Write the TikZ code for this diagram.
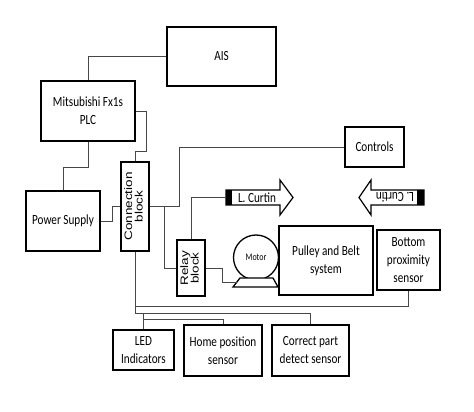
\documentclass[tikz,border=0pt]{standalone}
\usepackage{fontspec}
\setmainfont{Carlito}[FakeStretch=0.8]
\newfontfamily\rotfont{Liberation Sans}
\usetikzlibrary{calc}
\begin{document}
\begin{tikzpicture}[x=1pt,y=-1pt,
  box/.style={draw=black, line width=1.6pt, align=center, inner sep=0pt,
    font=\fontsize{14}{18}\selectfont},
  wire/.style={draw=black!72, line width=0.9pt},
  arrowline/.style={draw=black, line width=1.2pt, line join=miter},
  rotlabel/.style={font=\rotfont\fontsize{13.5}{15}\selectfont, align=center, inner sep=0pt},
  lbl/.style={font=\fontsize{14}{18}\selectfont, inner sep=0pt},
]
\useasboundingbox[fill=white] (0,0) rectangle (474,412);

% boxes
\node[box, minimum width=109, minimum height=59] (ais) at (221.5,56.5) {AIS};
\node[box, minimum width=94, minimum height=60] (plc) at (88,111) {Mitsubishi Fx1s\\PLC};
\node[box, minimum width=74, minimum height=60] (ps) at (63,221) {Power Supply};
\node[box, minimum width=28, minimum height=89] (cb) at (135,206.5) {};
\node[rotlabel, rotate=90] (cbt) at (cb.center) {\scalebox{1}[0.8]{\begin{tabular}{@{}c@{}}Connection\\[-2pt]block\end{tabular}}};
\node[box, minimum width=59, minimum height=40] (ctrl) at (374.5,147) {Controls};
\node[box, minimum width=28, minimum height=56] (relay) at (191,268) {};
\node[rotlabel, rotate=90] (relayt) at (relay.center) {\scalebox{1}[0.8]{\begin{tabular}{@{}c@{}}Relay\\[-2pt]block\end{tabular}}};
\node[box, minimum width=94, minimum height=69] (pulley) at (326,260.5) {Pulley and Belt\\system};
\node[box, minimum width=63, minimum height=60] (prox) at (408.5,260) {Bottom\\proximity\\sensor};
\node[box, minimum width=61, minimum height=40] (led) at (143.5,350) {LED\\Indicators};
\node[box, minimum width=78, minimum height=51] (home) at (223,350.5) {Home position\\sensor};
\node[box, minimum width=77, minimum height=51] (correct) at (310.5,350.5) {Correct part\\detect sensor};

% motor
\node[circle, draw=black, line width=1.3pt, minimum size=45, inner sep=0pt,
  font=\fontsize{10}{12}\selectfont] (motor) at (256,257.5) {\raisebox{-2pt}{Motor}};
\draw[black, line width=1.3pt, fill=white] (240,278) -- (273,278) -- (278,287) -- (233,287) -- cycle;
\coordinate (motorbase) at (237,282);

% L. Curtin arrows
\draw[arrowline, fill=white] (226,190) -- (280,190) -- (280,180) -- (293,197.5) -- (280,215) -- (280,205) -- (226,205) -- cycle;
\fill[black] (226,190) rectangle (232,205);
\node[lbl] (lc1) at (257,197.5) {L. Curtin};
\coordinate (lctail) at (226,197.5);

\draw[arrowline, fill=white] (424,190) -- (371,190) -- (371,180) -- (359,197.5) -- (371,215) -- (371,205) -- (424,205) -- cycle;
\fill[black] (417,190) rectangle (424,205);
\node[lbl, rotate=180] (lc2) at (395,197.5) {L. Curtin};

% connectors
\draw[wire] (ais.west) -| (plc.north);
\draw[wire] (plc.east) -| (146,151) -| (cb.north);
\draw[wire] (plc.south) |- (63,167) -- (ps.north);
\draw[wire] (ps.east) -- (112,221) |- (cb.west);
\draw[wire] (cb.east) -- (179,206.5) |- (ctrl.west);
\draw[wire] (164,206.5) |- (relay.west);
\draw[wire] (relay.north) |- (lctail);
\draw[wire] (relay.east) -- (222,268) |- (motorbase);
\draw[wire] (cb.south) -- (135,313);
\draw[wire] (135,306) -| (prox.south);
\draw[wire] (135,313) -| (correct.north);
\draw[wire] (143.5,313) -- (led.north);
\draw[wire] (143.5,319) -| (home.north);
\end{tikzpicture}
\end{document}
